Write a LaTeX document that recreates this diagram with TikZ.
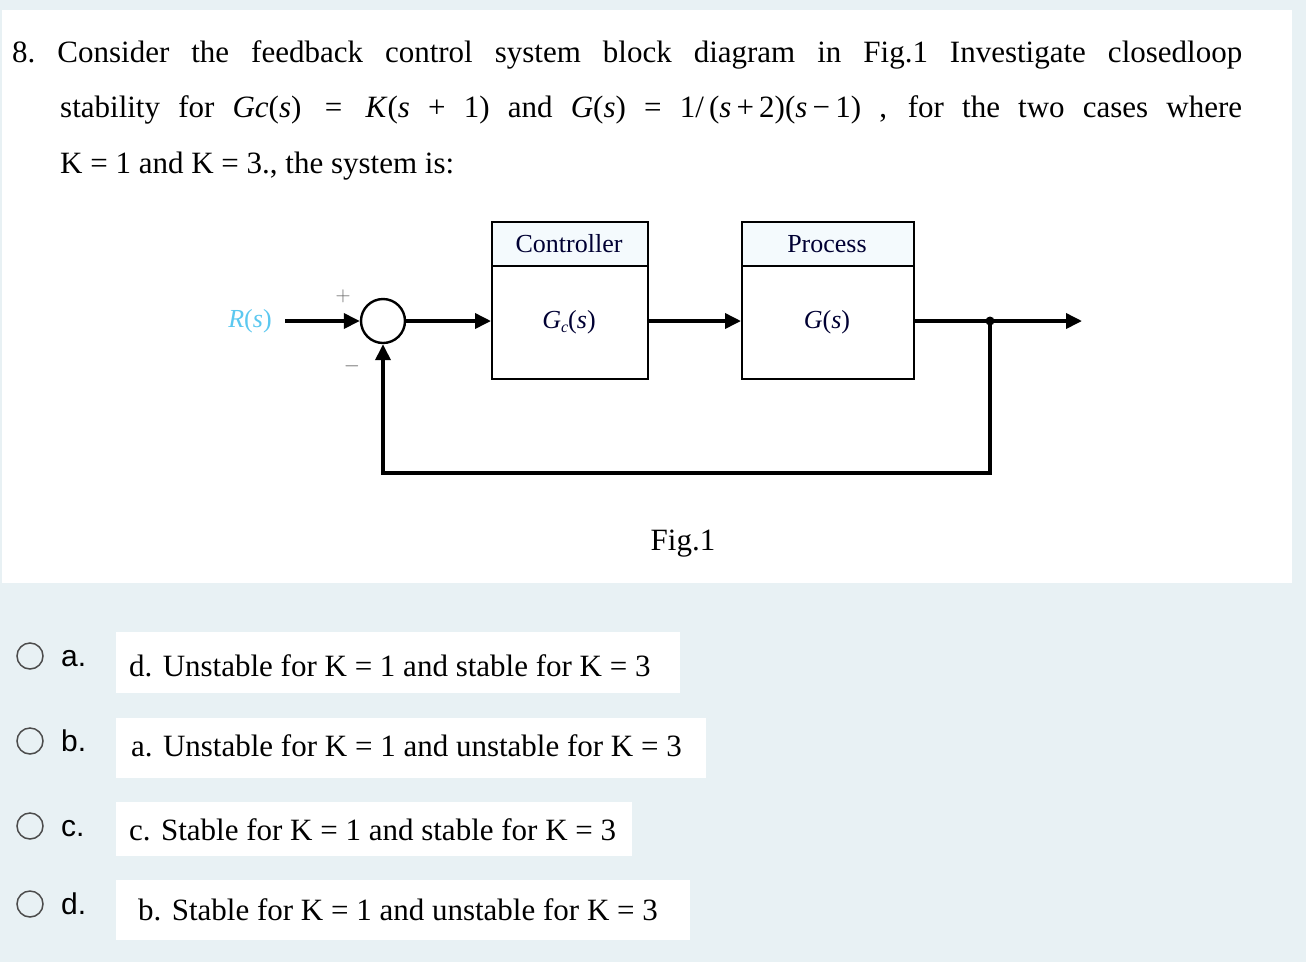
\documentclass[tikz,border=0pt]{standalone}
\usepackage{fontspec}
\setmainfont{Liberation Serif}
\newfontfamily\sans{Liberation Sans}
\usetikzlibrary{arrows.meta}
\definecolor{bg}{HTML}{E8F1F4}
\definecolor{rcol}{HTML}{5BC8F0}
\definecolor{hdr}{HTML}{F4FAFD}
\newcommand{\ii}[1]{\textit{#1}}
\begin{document}
\begin{tikzpicture}[x=1pt,y=-1pt,
  q/.style={anchor=base west,inner sep=0,font=\fontsize{31}{36}\selectfont},
  dl/.style={font=\fontsize{26}{30}\selectfont,text=black!80!blue},
  wire/.style={line width=3.6pt},
  arr/.style={wire,-{Triangle[length=16pt,width=15pt]}},
  radio/.style={circle,draw=black!70,line width=1.5pt,minimum size=26pt,inner sep=0},
  lab/.style={anchor=base west,inner sep=0,font=\sans\fontsize{30}{34}\selectfont}]
\fill[bg] (0,0) rectangle (1306,962);
\useasboundingbox (0,0) rectangle (1306,962);
\fill[white] (2,10) rectangle (1292,583);
% question
\node[q] (l1) at (12,62) {\makebox[1230pt][s]{8.\ Consider the feedback control system block diagram in Fig.1 Investigate closedloop}};
\node[q] (l2) at (60,117) {\makebox[1182pt][s]{stability for \ii{Gc}(\ii{s}) \,=\, \ii{K}(\ii{s} + 1) and \ii{G}(\ii{s}) = 1/\,(\ii{s}\,+\,2)(\ii{s}\,−\,1) , for the two cases where}};
\node[q] (l3) at (60,173) {K = 1 and K = 3., the system is:};
% diagram
\fill[hdr] (491,221) rectangle (647,266);
\fill[hdr] (741,221) rectangle (913,266);
\node[draw,line width=2.2pt,minimum width=156pt,minimum height=157pt,anchor=north west,inner sep=0] (C) at (491,221) {};
\node[draw,line width=2.2pt,minimum width=172pt,minimum height=157pt,anchor=north west,inner sep=0] (P) at (741,221) {};
\draw[line width=2.2pt] (C.west |- 0,266) -- (C.east |- 0,266);
\draw[line width=2.2pt] (P.west |- 0,266) -- (P.east |- 0,266);
\node[dl] (ct) at (569,244) {Controller};
\node[dl] (pt) at (827,244) {Process};
\node[dl] (gc) at (569,322) {\ii{G}\raisebox{-4pt}{\fontsize{16}{18}\selectfont\ii{c}}(\ii{s})};
\node[dl] (gp) at (827,322) {\ii{G}(\ii{s})};
\node[circle,draw,line width=2.4pt,minimum size=44pt,inner sep=0] (S) at (383,321) {};
\node[font=\fontsize{26}{30}\selectfont,text=rcol] (R) at (250,321) {\ii{R}(\ii{s})};
\node[font=\fontsize{20}{22}\selectfont,text=black!60] (plus) at (343,296) {$+$};
\node[font=\fontsize{20}{22}\selectfont,text=black!60] (minus) at (352,366) {$-$};
\coordinate (Rs) at (285,321);
\coordinate (out) at (1082,321);
\coordinate (J) at (990,321);
\coordinate (B1) at (990,473);
\coordinate (B2) at (383,473);
\draw[arr] (Rs) -- (S.west);
\draw[arr] (S.east) -- (C.west |- S.east);
\draw[arr] (C.east |- S.east) -- (P.west |- S.east);
\draw[arr] (P.east |- S.east) -- (out);
\fill (J) circle (4.5pt);
\draw[arr] (J) -- (B1) -- (B2) -- (S.south);
\node[font=\fontsize{31}{36}\selectfont] (fig) at (683,544) {Fig.1};
% options
\fill[white] (116,632) rectangle (680,693);
\fill[white] (116,718) rectangle (706,778);
\fill[white] (116,802) rectangle (632,856);
\fill[white] (116,880) rectangle (690,940);
\node[radio] (ra) at (30,656) {};
\node[radio] (rb) at (30,741) {};
\node[radio] (rc) at (30,826) {};
\node[radio] (rd) at (30,904) {};
\node[lab] (la) at (61,666) {a.};
\node[lab] (lb) at (61,751) {b.};
\node[lab] (lc) at (61,836) {c.};
\node[lab] (ld) at (61,914) {d.};
\node[q] (oa) at (129,676) {d. Unstable for K = 1 and stable for K = 3};
\node[q] (ob) at (131,756) {a. Unstable for K = 1 and unstable for K = 3};
\node[q] (oc) at (129,840) {c. Stable for K = 1 and stable for K = 3};
\node[q] (od) at (138,920) {b. Stable for K = 1 and unstable for K = 3};
\end{tikzpicture}
\end{document}
